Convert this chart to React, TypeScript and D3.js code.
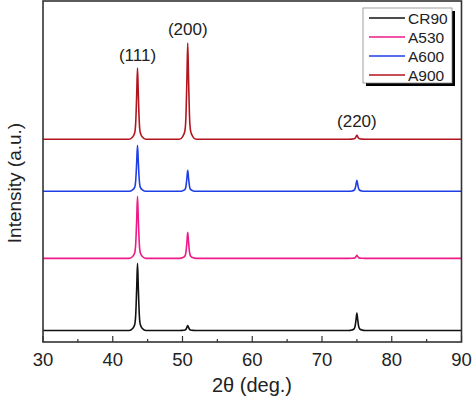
import React from 'react';
import * as d3 from 'd3';

// sample names, bottom to top
const samples = ['CR90', 'A530', 'A600', 'A900'];
const colors = ['#111111', '#ee1a86', '#1f3fe6', '#b3151f'];
// vertical stacking offset of each pattern (a.u.)
const offsets = [0, 72, 139, 191];

// reflection positions (2θ) and labels
const peakPos = [43.55, 50.75, 75.0];
const peakLabels = ['(111)', '(200)', '(220)'];

// peak heights above baseline per sample, for (111), (200), (220)
const peakHeights = [
  [67, 5, 17.5],
  [62, 26, 3],
  [46, 21, 11],
  [71, 96, 4],
];

// peak profile: offset in 2θ, fraction of the peak height
const profile: [number, number][] = [
  [-1.2, 0], [-0.7, 0.03], [-0.4, 0.09], [-0.25, 0.25], [-0.12, 0.62], [0, 1],
  [0.12, 0.62], [0.25, 0.25], [0.4, 0.09], [0.7, 0.03], [1.2, 0],
];

const xTicks = [30, 40, 50, 60, 70, 80, 90];
const xMinorTicks = [35, 45, 55, 65, 75, 85];

const W = 474;
const H = 399;
const left = 43;
const right = 461.5;
const top = 1;
const bottom = 342;

const x = d3.scaleLinear().domain([30, 90]).range([left, right]);
const y = d3.scaleLinear().domain([-11.5, 329]).range([bottom, top]);

function seriesPoints(i: number): [number, number][] {
  const pts: [number, number][] = [[30, offsets[i]]];
  peakPos.forEach((p, k) => {
    profile.forEach(([dx, f]) => pts.push([p + dx, offsets[i] + f * peakHeights[i][k]]));
  });
  pts.push([90, offsets[i]]);
  return pts;
}

const line = d3.line<[number, number]>()
  .x(d => x(d[0]))
  .y(d => y(d[1]))
  .curve(d3.curveMonotoneX);

const font = 'Liberation Sans, Arial, sans-serif';

export default function App() {
  const legX = 363;
  const legY = 8;
  const legW = 89;
  const legH = 75;
  return (
    <svg width={W} height={H} style={{ position: 'absolute', left: 0, top: 0 }} fontFamily={font}>
      <rect width={W} height={H} fill="#fff" />
      <defs>
        <clipPath id="plot">
          <rect x={left} y={top} width={right - left} height={bottom - top} />
        </clipPath>
      </defs>
      <g clipPath="url(#plot)">
        {samples.map((s, i) => (
          <path key={s} d={line(seriesPoints(i)) || ''} fill="none" stroke={colors[i]} strokeWidth={1.6} />
        ))}
      </g>
      {/* frame */}
      <rect x={left} y={top} width={right - left} height={bottom - top} fill="none" stroke="#333" strokeWidth={1.6} />
      {xTicks.map(t => (
        <g key={t}>
          <line x1={x(t)} x2={x(t)} y1={bottom} y2={bottom - 6} stroke="#333" strokeWidth={1.2} />
          <text x={x(t)} y={365.5} textAnchor="middle" fontSize={18.5} fill="#222">{t}</text>
        </g>
      ))}
      {xMinorTicks.map(t => (
        <line key={t} x1={x(t)} x2={x(t)} y1={bottom} y2={bottom - 3} stroke="#333" strokeWidth={1.2} />
      ))}
      <text x={252} y={392} textAnchor="middle" fontSize={20} fill="#222">2θ (deg.)</text>
      <text transform="translate(21,183) rotate(-90)" textAnchor="middle" fontSize={19} fill="#222">Intensity (a.u.)</text>
      {/* peak labels */}
      <text x={x(peakPos[0])} y={61} textAnchor="middle" fontSize={17} fill="#222">{peakLabels[0]}</text>
      <text x={x(peakPos[1])} y={35} textAnchor="middle" fontSize={17} fill="#222">{peakLabels[1]}</text>
      <text x={x(peakPos[2])} y={127} textAnchor="middle" fontSize={17} fill="#222">{peakLabels[2]}</text>
      {/* legend */}
      <rect x={legX + 3} y={legY + 3} width={legW} height={legH} fill="#000" />
      <rect x={legX} y={legY} width={legW} height={legH} fill="#fff" stroke="#888" strokeWidth={0.8} />
      {samples.map((s, i) => (
        <g key={s}>
          <line x1={369} x2={405} y1={legY + 10 + i * 19} y2={legY + 10 + i * 19} stroke={colors[i]} strokeWidth={1.5} />
          <text x={408} y={legY + 15.5 + i * 19} fontSize={15.5} fill="#222">{s}</text>
        </g>
      ))}
    </svg>
  );
}
